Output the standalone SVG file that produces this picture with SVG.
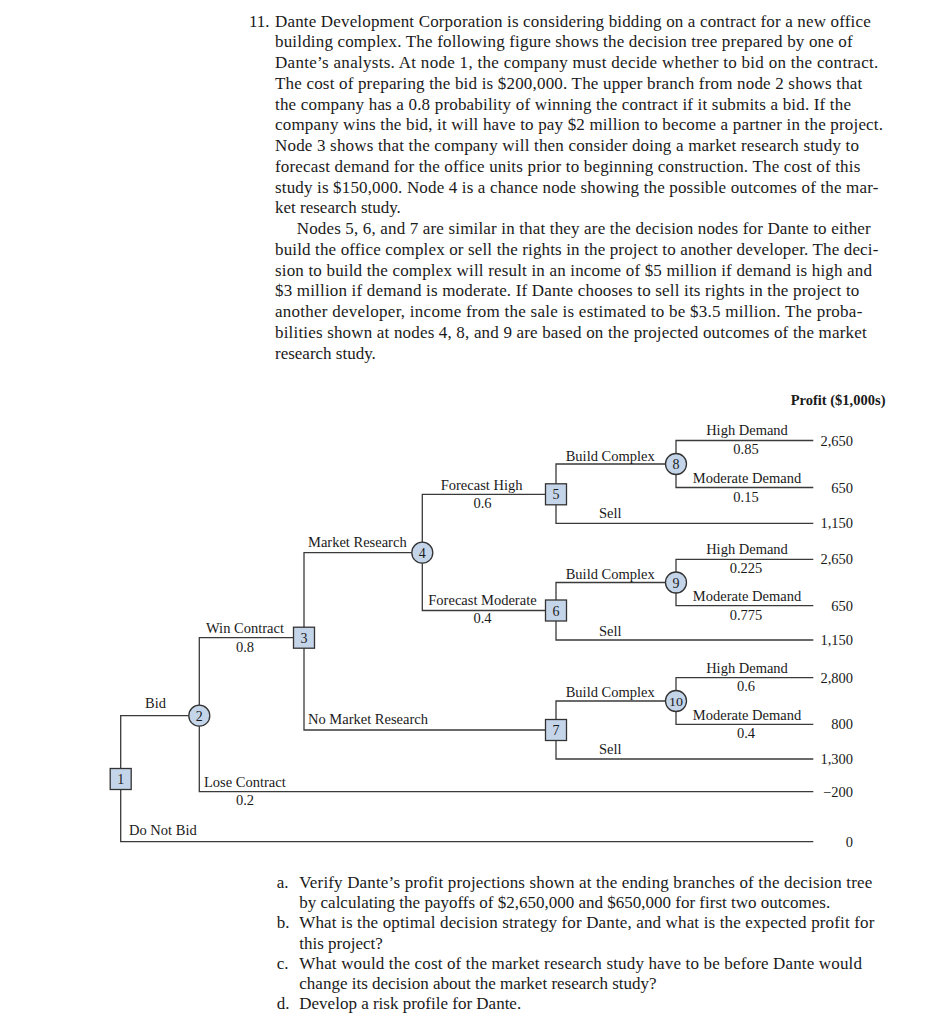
<svg xmlns="http://www.w3.org/2000/svg" width="935" height="1024" viewBox="0 0 935 1024">
<style>
.t{font-family:"Liberation Serif","Times New Roman",serif;fill:#1a1a1a}
.p{font-size:17px}
.l{font-size:14.5px}
.n{font-size:14px;text-anchor:middle}
.c{text-anchor:middle}
.r{text-anchor:end}
.b{font-weight:bold}
.e{stroke:#3a3a3a;stroke-width:1.3;fill:none}
.nd{fill:#c5d5e9;stroke:#333;stroke-width:1.3}
</style>
<rect width="935" height="1024" fill="#fff"/>
<g id="problem-text" class="t p">
<text x="249" y="26.7">11.</text>
<text x="275" y="26.7" textLength="595.7" lengthAdjust="spacing">Dante Development Corporation is considering bidding on a contract for a new office</text>
<text x="275" y="47.45" textLength="577.7" lengthAdjust="spacing">building complex. The following figure shows the decision tree prepared by one of</text>
<text x="275" y="68.2" textLength="603.3" lengthAdjust="spacing">Dante’s analysts. At node 1, the company must decide whether to bid on the contract.</text>
<text x="275" y="88.95" textLength="587.3" lengthAdjust="spacing">The cost of preparing the bid is $200,000. The upper branch from node 2 shows that</text>
<text x="275" y="109.7" textLength="576" lengthAdjust="spacing">the company has a 0.8 probability of winning the contract if it submits a bid. If the</text>
<text x="275" y="130.45" textLength="608" lengthAdjust="spacing">company wins the bid, it will have to pay $2 million to become a partner in the project.</text>
<text x="275" y="151.2" textLength="584" lengthAdjust="spacing">Node 3 shows that the company will then consider doing a market research study to</text>
<text x="275" y="171.95" textLength="585.3" lengthAdjust="spacing">forecast demand for the office units prior to beginning construction. The cost of this</text>
<text x="275" y="192.7" textLength="603.3" lengthAdjust="spacing">study is $150,000. Node 4 is a chance node showing the possible outcomes of the mar-</text>
<text x="275" y="213.45">ket research study.</text>
<text x="296.7" y="234.2" textLength="574" lengthAdjust="spacing">Nodes 5, 6, and 7 are similar in that they are the decision nodes for Dante to either</text>
<text x="275" y="254.95" textLength="603.3" lengthAdjust="spacing">build the office complex or sell the rights in the project to another developer. The deci-</text>
<text x="275" y="275.7" textLength="597" lengthAdjust="spacing">sion to build the complex will result in an income of $5 million if demand is high and</text>
<text x="275" y="296.45" textLength="584.3" lengthAdjust="spacing">$3 million if demand is moderate. If Dante chooses to sell its rights in the project to</text>
<text x="275" y="317.2" textLength="587.3" lengthAdjust="spacing">another developer, income from the sale is estimated to be $3.5 million. The proba-</text>
<text x="275" y="337.95" textLength="591.7" lengthAdjust="spacing">bilities shown at nodes 4, 8, and 9 are based on the projected outcomes of the market</text>
<text x="275" y="358.7">research study.</text>
</g>
<g id="connectors" class="e">
<path d="M120.7 779V715.7H199.3"/>
<path d="M120.7 779V841.7H813.3"/>
<path d="M199.3 715.7V637.7H304"/>
<path d="M199.3 715.7V791.7H813.3"/>
<path d="M304 637.7V552.7H422.3"/>
<path d="M304 637.7V730H556"/>
<path d="M422.3 552.7V494.3H556"/>
<path d="M422.3 552.7V610.5H556"/>
<path d="M556 494.3V464H676"/>
<path d="M556 494.3V523.3H813.3"/>
<path d="M676 464V440.5H813.3"/>
<path d="M676 464V487.5H813.3"/>
<path d="M556 610.5V582.5H676"/>
<path d="M556 610.5V640H813.3"/>
<path d="M676 582.5V559.3H813.3"/>
<path d="M676 582.5V605.7H813.3"/>
<path d="M556 730V701H676"/>
<path d="M556 730V759H813.3"/>
<path d="M676 701V677.7H813.3"/>
<path d="M676 701V724.3H813.3"/>
</g>
<g id="edge-labels" class="t l">
<text x="155.5" y="708" class="c">Bid</text>
<text x="129" y="835">Do Not Bid</text>
<text x="206" y="632.7">Win Contract</text>
<text x="245" y="651.7" class="c">0.8</text>
<text x="204" y="786.7">Lose Contract</text>
<text x="245" y="805" class="c">0.2</text>
<text x="308" y="546.7">Market Research</text>
<text x="308" y="724">No Market Research</text>
<text x="440.7" y="490">Forecast High</text>
<text x="482.5" y="508.3" class="c">0.6</text>
<text x="428.3" y="605">Forecast Moderate</text>
<text x="482.5" y="622.5" class="c">0.4</text>
<text x="565.7" y="460.5">Build Complex</text>
<text x="599" y="518.3">Sell</text>
<text x="565.7" y="578.5">Build Complex</text>
<text x="599" y="635.5">Sell</text>
<text x="565.7" y="697">Build Complex</text>
<text x="599" y="754">Sell</text>
<text x="747" y="435" class="c">High Demand</text>
<text x="746" y="453.5" class="c">0.85</text>
<text x="747" y="483" class="c">Moderate Demand</text>
<text x="746" y="501.5" class="c">0.15</text>
<text x="747" y="554" class="c">High Demand</text>
<text x="746" y="572.7" class="c">0.225</text>
<text x="747" y="601.3" class="c">Moderate Demand</text>
<text x="746" y="619.8" class="c">0.775</text>
<text x="747" y="672.5" class="c">High Demand</text>
<text x="746" y="691.3" class="c">0.6</text>
<text x="747" y="720" class="c">Moderate Demand</text>
<text x="746" y="738.3" class="c">0.4</text>
</g>
<g id="payoffs" class="t l r">
<text x="790.7" y="405" class="b" style="text-anchor:start">Profit ($1,000s)</text>
<text x="853" y="445.5">2,650</text>
<text x="853" y="492.5">650</text>
<text x="853" y="527.8">1,150</text>
<text x="853" y="564.3">2,650</text>
<text x="853" y="610.5">650</text>
<text x="853" y="644.5">1,150</text>
<text x="853" y="682.5">2,800</text>
<text x="853" y="729">800</text>
<text x="853" y="763.5">1,300</text>
<text x="853" y="796.7">−200</text>
<text x="853" y="846.7">0</text>
</g>
<g id="node1"><rect class="nd" x="110.2" y="768.5" width="21" height="21"/><text class="t n" x="120.7" y="784">1</text></g>
<g id="node2"><circle class="nd" cx="199.3" cy="715.7" r="10.5"/><text class="t n" x="199.3" y="720.7">2</text></g>
<g id="node3"><rect class="nd" x="293.5" y="627.2" width="21" height="21"/><text class="t n" x="304" y="642.7">3</text></g>
<g id="node4"><circle class="nd" cx="422.3" cy="552.7" r="10.5"/><text class="t n" x="422.3" y="557.7">4</text></g>
<g id="node5"><rect class="nd" x="545.5" y="483.8" width="21" height="21"/><text class="t n" x="556" y="499.3">5</text></g>
<g id="node6"><rect class="nd" x="545.5" y="600" width="21" height="21"/><text class="t n" x="556" y="615.5">6</text></g>
<g id="node7"><rect class="nd" x="545.5" y="719.5" width="21" height="21"/><text class="t n" x="556" y="735">7</text></g>
<g id="node8"><circle class="nd" cx="676" cy="464" r="10.5"/><text class="t n" x="676" y="469">8</text></g>
<g id="node9"><circle class="nd" cx="676" cy="582.5" r="10.5"/><text class="t n" x="676" y="587.5">9</text></g>
<g id="node10"><circle class="nd" cx="676" cy="701" r="10.5"/><text class="t n" x="676" y="705.5" style="font-size:12.5px" textLength="14" lengthAdjust="spacingAndGlyphs">10</text></g>
<g id="questions" class="t p">
<text x="276.7" y="888">a.</text>
<text x="299.3" y="888" textLength="573" lengthAdjust="spacing">Verify Dante’s profit projections shown at the ending branches of the decision tree</text>
<text x="299.3" y="908.2">by calculating the payoffs of $2,650,000 and $650,000 for first two outcomes.</text>
<text x="276.7" y="928.4">b.</text>
<text x="299.3" y="928.4" textLength="575" lengthAdjust="spacing">What is the optimal decision strategy for Dante, and what is the expected profit for</text>
<text x="299.3" y="948.6">this project?</text>
<text x="276.7" y="968.8">c.</text>
<text x="299.3" y="968.8" textLength="562.7" lengthAdjust="spacing">What would the cost of the market research study have to be before Dante would</text>
<text x="299.3" y="989">change its decision about the market research study?</text>
<text x="276.7" y="1009.2">d.</text>
<text x="299.3" y="1009.2">Develop a risk profile for Dante.</text>
</g>
</svg>
